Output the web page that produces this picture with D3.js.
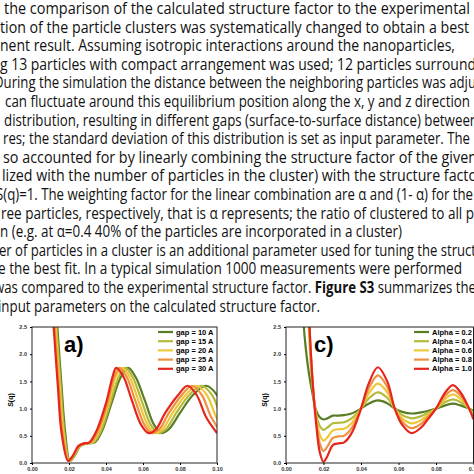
<!DOCTYPE html>
<head>
<meta charset="utf-8">
<script src="https://d3js.org/d3.v7.min.js"></script>
<style>body{margin:0;background:#fff}</style>
</head>
<body>
<svg width="474" height="474"></svg>
<script>
// paragraph lines: text, start x, end x
var textLines = [
 [" the comparison of the calculated structure factor to the experimental", 4, 470],
 ["tion of the particle clusters was systematically changed to obtain a best", 0, 469],
 ["nent result. Assuming isotropic interactions around the nanoparticles,", 0, 455],
 ["g 13 particles with compact arrangement was used; 12 particles surround", 0, 476],
 ["During the simulation the distance between the neighboring particles was adju", -6, 476],
 ["can fluctuate around this equilibrium position along the x, y and z direction", 5, 470],
 ["distribution, resulting in different gaps (surface-to-surface distance) between", 4, 478],
 ["res; the standard deviation of this distribution is set as input parameter. The", 3, 470],
 ["so accounted for by linearly combining the structure factor of the given", 3, 477],
 ["lized with the number of particles in the cluster) with the structure facto", 2, 477],
 ["S(q)=1. The weighting factor for the linear combination are \u03b1 and (1- \u03b1) for the", -4, 473],
 ["ree particles, respectively, that is \u03b1 represents; the ratio of clustered to all p", 1, 474],
 ["n (e.g. at \u03b1=0.4 40% of the particles are incorporated in a cluster)", 0, 402],
 ["er of particles in a cluster is an additional parameter used for tuning the struct", -1, 476],
 ["e the best fit. In a typical simulation 1000 measurements were performed", -2, 462],
 ["was compared to the experimental structure factor. Figure S3 summarizes the", -6, 476],
 ["input parameters on the calculated structure factor.", -2, 320]
];

// panel a: shared S landmarks, q positions per gap
var gapNames = ["gap = 10 A", "gap = 15 A", "gap = 20 A", "gap = 25 A", "gap = 30 A"];
var gapS = [2.6,1.4,0.55,0.04,0.13,0.31,0.36,0.38,0.6,1.1,1.58,1.75,1.58,1.15,0.7,0.55,0.62,0.92,1.25,1.42,1.25,0.85,0.55];
var gapQ = [
 [0.0135,0.016,0.018,0.0205,0.023,0.026,0.030,0.034,0.038,0.043,0.048,0.052,0.056,0.061,0.066,0.070,0.074,0.080,0.087,0.094,0.100,0.105,0.109],
 [0.013,0.0155,0.0175,0.0203,0.0228,0.0258,0.0293,0.0333,0.0374,0.0423,0.0469,0.0504,0.0544,0.0592,0.0642,0.0683,0.0723,0.078,0.085,0.0915,0.0973,0.1023,0.1068],
 [0.0125,0.015,0.017,0.020,0.0225,0.0255,0.029,0.0325,0.0365,0.0415,0.0453,0.0488,0.0528,0.0575,0.0625,0.0665,0.0705,0.076,0.083,0.089,0.0945,0.0995,0.1045],
 [0.012,0.0145,0.0165,0.0198,0.0223,0.0253,0.0285,0.0318,0.0358,0.0408,0.0444,0.0472,0.0512,0.0558,0.0608,0.0648,0.0688,0.074,0.081,0.0865,0.0918,0.0968,0.1023],
 [0.0115,0.014,0.016,0.0195,0.022,0.025,0.028,0.031,0.035,0.040,0.0435,0.0455,0.0495,0.054,0.059,0.063,0.067,0.072,0.079,0.084,0.089,0.094,0.100]
];

// panel c: shared q grid, S per alpha
var alphaNames = ["Alpha = 0.2", "Alpha = 0.4", "Alpha = 0.6", "Alpha = 0.8", "Alpha = 1.0"];
var alphaQ = [0.009,0.010,0.012,0.014,0.016,0.018,0.020,0.022,0.025,0.028,0.031,0.035,0.040,0.044,0.049,0.054,0.058,0.062,0.067,0.072,0.076,0.080,0.085,0.089,0.093,0.097,0.100];
var alphaS = [
 [2.8,2.3,1.7,1.3,0.97,0.84,0.80,0.82,0.87,0.87,0.88,0.91,1.0,1.09,1.15,1.1,1.0,0.94,0.91,0.93,0.96,1.0,1.06,1.09,1.06,1.01,0.96],
 [5,4,2.6,1.45,0.92,0.68,0.61,0.65,0.73,0.74,0.75,0.82,1.0,1.18,1.30,1.2,1.0,0.88,0.82,0.86,0.93,1.0,1.12,1.17,1.12,1.02,0.92],
 [6,5,2.8,1.55,0.87,0.52,0.41,0.47,0.60,0.62,0.63,0.73,1.0,1.27,1.46,1.3,1.0,0.82,0.73,0.79,0.89,1.0,1.18,1.26,1.18,1.03,0.88],
 [7,6,2.9,1.6,0.82,0.36,0.22,0.30,0.46,0.49,0.50,0.64,1.0,1.36,1.61,1.4,1.0,0.76,0.64,0.72,0.86,1.0,1.24,1.34,1.24,1.04,0.84],
 [8,7,3.0,1.6,0.75,0.2,0.02,0.12,0.33,0.36,0.38,0.55,1.0,1.45,1.76,1.5,1.0,0.7,0.55,0.65,0.82,1.0,1.3,1.43,1.3,1.05,0.8]
];

var colors = ["#587d24", "#b3ba3c", "#efc83a", "#ee9140", "#e5261d"];
var xTicks = [0, 0.02, 0.04, 0.06, 0.08, 0.10];
var yTicks = [0, 0.5, 1.0, 1.5, 2.0, 2.5];

var svg = d3.select("svg");

svg.selectAll("text.para").data(textLines).enter().append("text")
  .attr("x", d => d[1]).attr("y", (d, i) => 14 + i * 18.6)
  .attr("textLength", d => d[2] - d[1]).attr("lengthAdjust", "spacingAndGlyphs")
  .style("font-family", "'Open Sans', sans-serif").style("font-size", "15.5px").style("fill", "#111")
  .each(function(d) {
    var t = d3.select(this);
    if (d[0].indexOf("Figure S3") >= 0) {
      var parts = d[0].split("Figure S3");
      t.append("tspan").text(parts[0]);
      t.append("tspan").style("font-weight", "bold").text("Figure S3");
      t.append("tspan").text(parts[1]);
    } else t.text(d[0]);
  });

function panel(id, left, right, label, labelX, names, series, legendX) {
  var top = 327, bottom = 463;
  var x = d3.scaleLinear().domain([0, 0.10]).range([left, right]);
  var y = d3.scaleLinear().domain([0, 2.5]).range([bottom, top]);
  var g = svg.append("g");
  g.append("clipPath").attr("id", id).append("rect")
    .attr("x", left).attr("y", top).attr("width", right - left).attr("height", bottom - top);
  var line = d3.line().x(d => x(d[0])).y(d => y(d[1])).curve(d3.curveCatmullRom);
  g.append("g").attr("clip-path", "url(#" + id + ")").selectAll("path").data(series).enter().append("path")
    .attr("d", line).attr("fill", "none").attr("stroke-width", 2.2)
    .attr("stroke", (d, i) => colors[i]);
  g.append("rect").attr("x", left).attr("y", top).attr("width", right - left).attr("height", bottom - top)
    .attr("fill", "none").attr("stroke", "#222").attr("stroke-width", 1);
  var xa = g.append("g").attr("transform", "translate(0," + bottom + ")")
    .call(d3.axisBottom(x).tickValues(xTicks).tickFormat(d3.format(".2f")).tickSize(2));
  var ya = g.append("g").attr("transform", "translate(" + left + ",0)")
    .call(d3.axisLeft(y).tickValues(yTicks).tickFormat(d3.format(".1f")).tickSize(2));
  [xa, ya].forEach(a => {
    a.select(".domain").remove();
    a.selectAll("text").style("font-family", "Arial, sans-serif").style("font-size", "5.5px").style("font-weight", "bold").attr("fill", "#333");
  });
  xa.selectAll("text").attr("dy", "0.5em");
  g.append("text").attr("transform", "translate(" + (left - 19) + ",400) rotate(-90)")
    .attr("text-anchor", "middle").style("font-family", "Arial, sans-serif").style("font-size", "7px").style("font-weight", "bold").text("S(q)");
  g.append("text").attr("x", labelX).attr("y", 352).style("font-family", "Arial, sans-serif")
    .style("font-size", "22px").style("font-weight", "bold").text(label);
  var lg = g.selectAll("g.lg").data(names).enter().append("g")
    .attr("transform", (d, i) => "translate(" + legendX + "," + (332 + i * 9.2) + ")");
  lg.append("line").attr("x1", 0).attr("x2", 15).attr("stroke", (d, i) => colors[i]).attr("stroke-width", 2.2);
  lg.append("text").attr("x", 18).attr("dy", "0.35em").style("font-family", "Arial, sans-serif")
    .style("font-size", "7.5px").style("font-weight", "bold").text(d => d);
}

panel("clipA", 32, 217, "a)", 64, gapNames, gapQ.map(q => q.map((v, j) => [v, gapS[j]])), 158);
panel("clipC", 286, 473.5, "c)", 314, alphaNames, alphaS.map(s => s.map((v, j) => [alphaQ[j], v])), 414);
</script>
</body>
</html>
